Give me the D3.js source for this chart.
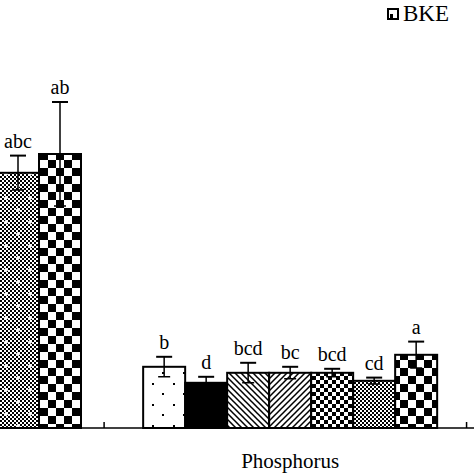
<!DOCTYPE html>
<html><head><meta charset="utf-8">
<script src="https://cdn.jsdelivr.net/npm/d3@7"></script>
<style>body{margin:0;background:#fff} text{font-family:"Liberation Serif","DejaVu Serif",serif}</style>
</head><body>
<script>
var W = 474, H = 474;

// left group (cut off) and Phosphorus group
var groupNames = ["", "Phosphorus"];
var groupStart = [0, 3.48];
var leftValues = [63.8, 68.5];
var leftErrors = [4.3, 13];
var leftLetters = ["abc", "ab"];
var leftPatterns = ["fineDot", "bigCheck"];
var phValues = [15.3, 11.3, 13.8, 13.8, 13.8, 11.8, 18.3];
var phErrors = [2.5, 1.5, 2.5, 1.5, 1, 0.8, 3.3];
var phLetters = ["b", "d", "bcd", "bc", "bcd", "cd", "a"];
var phPatterns = ["dots", "solid", "diagBack", "diagFwd", "midCheck", "fine", "bigCheck"];
var legendLabel = "BKE";

var svg = d3.select("body").append("svg").attr("width", W).attr("height", H);

var defs = svg.append("defs");
function pat(id, size) {
    return defs.append("pattern").attr("id", id).attr("patternUnits", "userSpaceOnUse")
        .attr("width", size).attr("height", size);
}
var p;
p = pat("dots", 21);
p.append("rect").attr("width", 21).attr("height", 21).attr("fill", "#fff");
p.append("rect").attr("x", 5).attr("y", 5).attr("width", 2).attr("height", 2).attr("fill", "#000");
p.append("rect").attr("x", 15).attr("y", 15).attr("width", 2).attr("height", 2).attr("fill", "#000");
p = pat("diagBack", 6);
p.append("rect").attr("width", 6).attr("height", 6).attr("fill", "#fff");
p.append("path").attr("d", "M-1,-1 L7,7 M-1,5 L1,7 M5,-1 L7,1").attr("stroke", "#000").attr("stroke-width", 1.5);
p = pat("diagFwd", 6);
p.append("rect").attr("width", 6).attr("height", 6).attr("fill", "#fff");
p.append("path").attr("d", "M-1,7 L7,-1 M-1,1 L1,-1 M5,7 L7,5").attr("stroke", "#000").attr("stroke-width", 1.5);
p = pat("midCheck", 8);
p.append("rect").attr("width", 8).attr("height", 8).attr("fill", "#fff");
p.append("rect").attr("width", 4).attr("height", 4).attr("fill", "#000");
p.append("rect").attr("x", 4).attr("y", 4).attr("width", 4).attr("height", 4).attr("fill", "#000");
p = pat("bigCheck", 16);
p.append("rect").attr("width", 16).attr("height", 16).attr("fill", "#fff");
p.append("rect").attr("width", 8).attr("height", 8).attr("fill", "#000");
p.append("rect").attr("x", 8).attr("y", 8).attr("width", 8).attr("height", 8).attr("fill", "#000");
p = pat("fine", 4);
p.append("rect").attr("width", 4).attr("height", 4).attr("fill", "#fff");
p.append("rect").attr("width", 2).attr("height", 2).attr("fill", "#000");
p.append("rect").attr("x", 2).attr("y", 2).attr("width", 2).attr("height", 2).attr("fill", "#000");
p = pat("fineDot", 24);
p.append("rect").attr("width", 24).attr("height", 24).attr("fill", "url(#fine)");
p.append("path").attr("d", "M4,6 h4 M6,4 v4 M16,18 h4 M18,16 v4").attr("stroke", "#fff").attr("stroke-width", 1.5);

var x = d3.scaleLinear().domain([0, 1]).range([-3, 39]);
var y = d3.scaleLinear().domain([0, 100]).range([428, 28]);
var bw = x(1) - x(0);

function fillOf(name) { return name === "solid" ? "#000" : "url(#" + name + ")"; }

var bars = [];
leftValues.forEach(function(v, i) {
    bars.push({ slot: groupStart[0] + i, v: v, e: leftErrors[i], letter: leftLetters[i], pat: leftPatterns[i] });
});
phValues.forEach(function(v, i) {
    bars.push({ slot: groupStart[1] + i, v: v, e: phErrors[i], letter: phLetters[i], pat: phPatterns[i] });
});

var g = svg.append("g");
g.selectAll(".err").data(bars).enter().append("line")
    .attr("x1", function(d) { return x(d.slot) + bw / 2; })
    .attr("x2", function(d) { return x(d.slot) + bw / 2; })
    .attr("y1", function(d) { return y(d.v + d.e); })
    .attr("y2", function(d) { return y(d.v); })
    .attr("stroke", "#000").attr("stroke-width", 1.5);
g.selectAll(".bar").data(bars).enter().append("rect")
    .attr("x", function(d) { return x(d.slot); })
    .attr("y", function(d) { return y(d.v); })
    .attr("width", bw)
    .attr("height", function(d) { return y(0) - y(d.v); })
    .attr("fill", function(d) { return fillOf(d.pat); })
    .attr("stroke", "#000").attr("stroke-width", 2);
g.selectAll(".errLo").data(bars).enter().append("path")
    .attr("d", function(d) {
        var cx = x(d.slot) + bw / 2;
        return "M" + cx + "," + y(d.v) + " V" + y(d.v - d.e) + " M" + (cx - 6) + "," + y(d.v - d.e) + " h12";
    })
    .attr("stroke", "#000").attr("stroke-width", 1.5).attr("fill", "none");
g.selectAll(".cap").data(bars).enter().append("line")
    .attr("x1", function(d) { return x(d.slot) + bw / 2 - 8; })
    .attr("x2", function(d) { return x(d.slot) + bw / 2 + 8; })
    .attr("y1", function(d) { return y(d.v + d.e); })
    .attr("y2", function(d) { return y(d.v + d.e); })
    .attr("stroke", "#000").attr("stroke-width", 2);
g.selectAll(".lab").data(bars).enter().append("text")
    .attr("x", function(d) { return x(d.slot) + bw / 2; })
    .attr("y", function(d) { return y(d.v + d.e) - 8; })
    .attr("text-anchor", "middle").attr("font-size", 20)
    .text(function(d) { return d.letter; });

// axis
svg.append("line").attr("x1", 0).attr("x2", W).attr("y1", y(0)).attr("y2", y(0))
    .attr("stroke", "#000").attr("stroke-width", 1.5);
[x(2.55), x(groupStart[1] + 7.7)].forEach(function(tx) {
    svg.append("line").attr("x1", tx).attr("x2", tx).attr("y1", y(0)).attr("y2", y(0) - 6)
        .attr("stroke", "#000").attr("stroke-width", 1.5);
});
svg.append("text").attr("x", x(groupStart[1] + 3.5)).attr("y", 468)
    .attr("text-anchor", "middle").attr("font-size", 21).text(groupNames[1]);

// legend
svg.append("rect").attr("x", 388).attr("y", 9).attr("width", 10).attr("height", 10)
    .attr("fill", "#fff").attr("stroke", "#000").attr("stroke-width", 2);
svg.append("rect").attr("x", 390).attr("y", 14).attr("width", 3).attr("height", 4).attr("fill", "#000");
svg.append("text").attr("x", 403).attr("y", 21).attr("font-size", 23).text(legendLabel);
</script>
</body></html>
